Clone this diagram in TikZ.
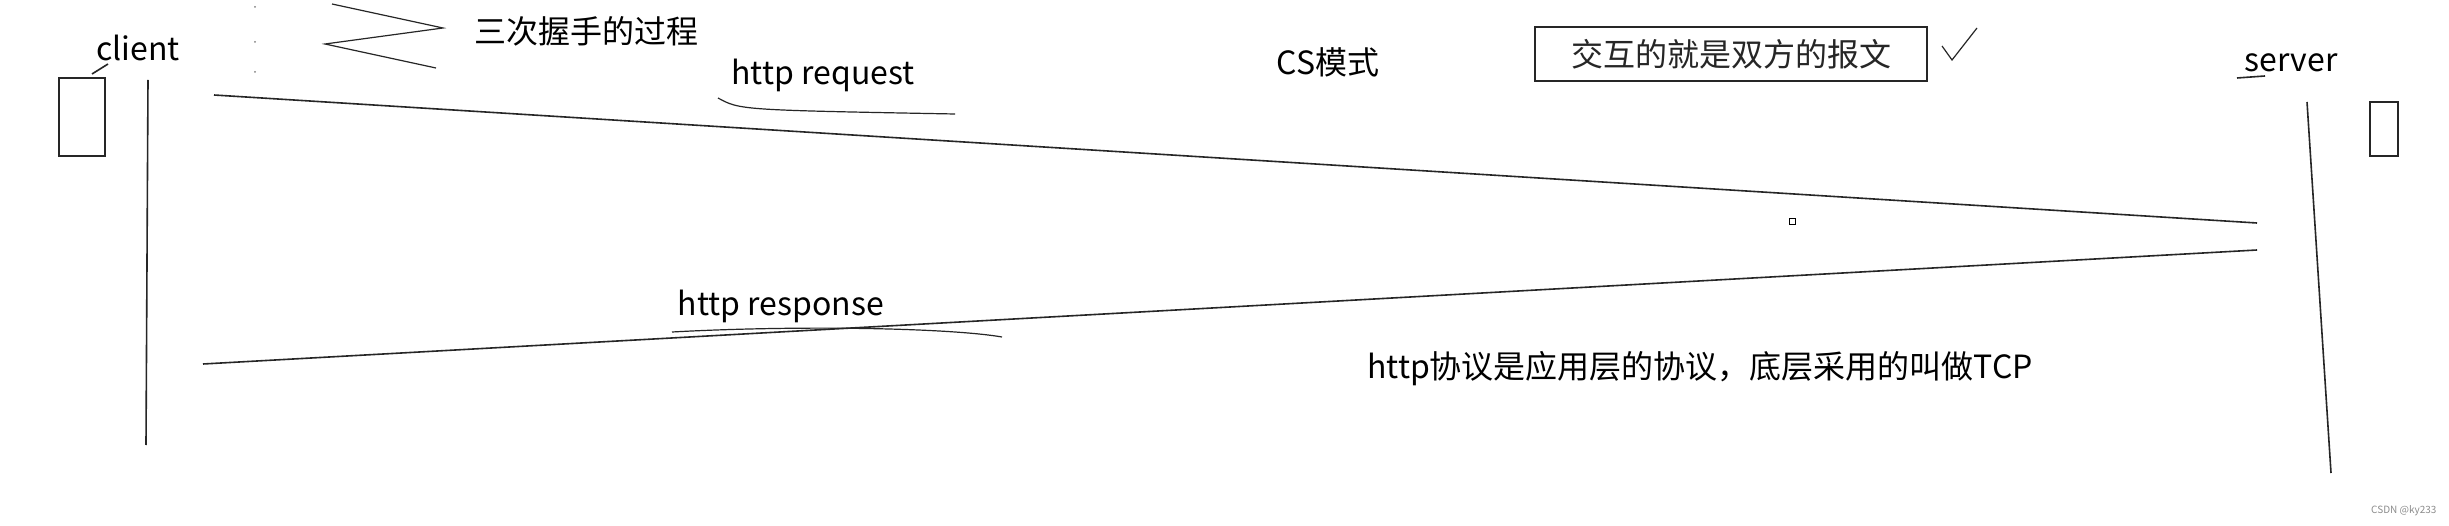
\documentclass[tikz,border=0pt]{standalone}
\usepackage{fontspec}
\setmainfont{Liberation Sans}
\newfontfamily\cjk{Noto Sans CJK SC}
\begin{document}
\begin{tikzpicture}[x=1pt,y=-1pt,
  lbl/.style={font=\cjk\fontsize{32}{36}\selectfont,inner sep=0pt},
  pen/.style={line width=1.6pt,black!85}]
\useasboundingbox[fill=white] (0,0) rectangle (2449,526);
% client side
\node[lbl] (client) at (138,48) {client};
\draw[pen] (92,74) -- (108,64);
\node[draw,pen,minimum width=46,minimum height=78,inner sep=0] (crect) at (82,117) {};
\coordinate (c1) at (148,80); \coordinate (c2) at (146,445);
\draw[pen] (c1) -- (c2);
% zigzag
\coordinate (z1) at (332,4); \coordinate (z2) at (443,28); \coordinate (z3) at (325,44); \coordinate (z4) at (436,68);
\draw[pen,line width=1.2pt] (z1) -- (z2) -- (z3) -- (z4);
\foreach \yy in {7,42,72} \fill[black!50] (255,\yy) circle (1);
\node[lbl] (three) at (586,31) {三次握手的过程};
% request
\node[lbl] (req) at (823,75) {http request};
\draw[pen,line width=1.2pt] (718,98) .. controls (740,110) .. (955,114);
\coordinate (r1) at (214,95); \coordinate (r2) at (2257,223);
\draw[pen] (r1) -- (r2);
\node[lbl] (cs) at (1328,62) {CS模式};
\node[lbl,draw,pen,minimum width=392,minimum height=54] (box) at (1731,54) {交互的就是双方的报文};
\draw[pen,line width=1.2pt] (1942,46) -- (1952,60) -- (1977,28);
% server
\node[lbl] (server) at (2291,63) {server};
\draw[pen] (2237,78) -- (2265,76);
\node[draw,pen,minimum width=28,minimum height=54,inner sep=0] (srect) at (2384,129) {};
\coordinate (s1) at (2307,102); \coordinate (s2) at (2331,473);
\draw[pen] (s1) -- (s2);
% response
\coordinate (p1) at (2257,250); \coordinate (p2) at (203,364);
\draw[pen] (p1) -- (p2);
\node[lbl] (resp) at (781,306) {http response};
\draw[pen,line width=1.2pt] (672,332) .. controls (800,325) and (950,328) .. (1002,337);
\node[lbl] (proto) at (1700,369) {http协议是应用层的协议，底层采用的叫做TCP};
\node[draw,line width=1pt,minimum size=6,inner sep=0] (sq) at (1792,222) {};
\node[font=\cjk\fontsize{10}{12}\selectfont,text=black!45,anchor=east] (csdn) at (2440,511) {CSDN @ky233};
\end{tikzpicture}
\end{document}
